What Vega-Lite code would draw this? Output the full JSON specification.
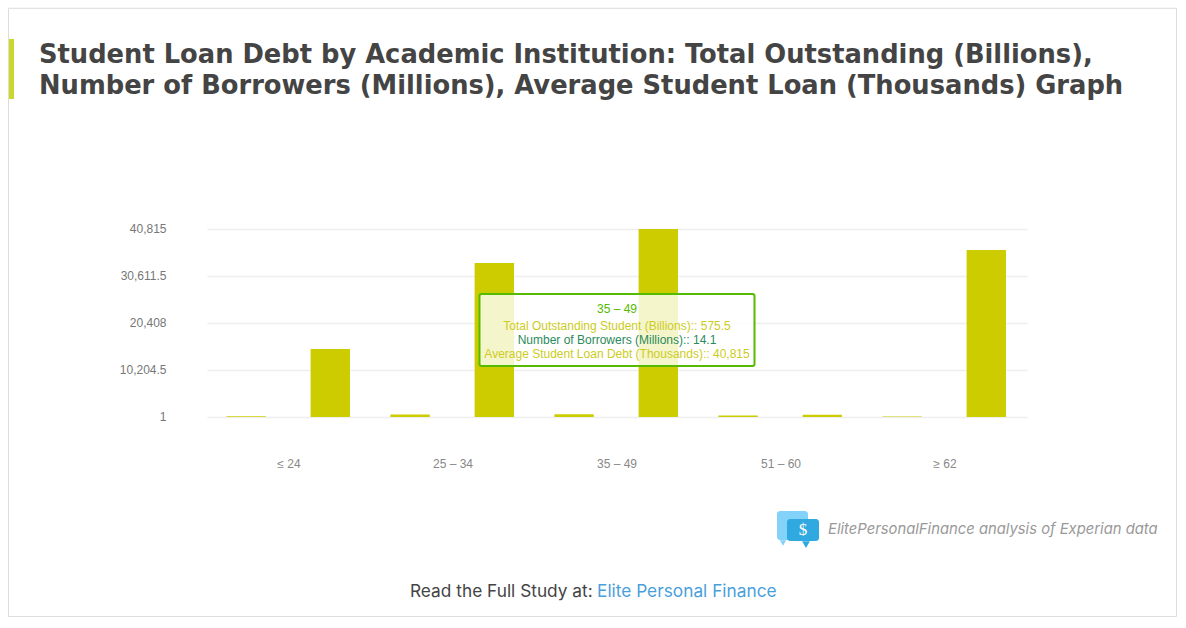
{
"$schema":"https://vega.github.io/schema/vega-lite/v6.json",
"autosize":{"type":"none"},
"padding":{"left":207,"top":229,"right":159,"bottom":211},
"width":820,"height":188,
"background":"#ffffff",
"config":{"view":{"stroke":null}},
"title":{"text":["Student Loan Debt by Academic Institution: Total Outstanding (Billions),","Number of Borrowers (Millions), Average Student Loan (Thousands) Graph"],
"anchor":"start","frame":"group","dx":-168,"offset":-91.5,"font":"DejaVu Sans","fontWeight":700,"fontSize":25.75,"lineHeight":31,"color":"#444444"},
"datasets":{
"one":[{"k":1}],
"bars":[
{"age":"≤ 24","series":"Total Outstanding Student (Billions)","value":150},
{"age":"≤ 24","series":"Number of Borrowers (Millions)","value":7.6},
{"age":"≤ 24","series":"Average Student Loan Debt (Thousands)","value":14763},
{"age":"25 – 34","series":"Total Outstanding Student (Billions)","value":520},
{"age":"25 – 34","series":"Number of Borrowers (Millions)","value":14.9},
{"age":"25 – 34","series":"Average Student Loan Debt (Thousands)","value":33433},
{"age":"35 – 49","series":"Total Outstanding Student (Billions)","value":575.5},
{"age":"35 – 49","series":"Number of Borrowers (Millions)","value":14.1},
{"age":"35 – 49","series":"Average Student Loan Debt (Thousands)","value":40815},
{"age":"51 – 60","series":"Total Outstanding Student (Billions)","value":330},
{"age":"51 – 60","series":"Number of Borrowers (Millions)","value":9},
{"age":"51 – 60","series":"Average Student Loan Debt (Thousands)","value":500},
{"age":"≥ 62","series":"Total Outstanding Student (Billions)","value":100},
{"age":"≥ 62","series":"Number of Borrowers (Millions)","value":2.4},
{"age":"≥ 62","series":"Average Student Loan Debt (Thousands)","value":36255}
]},
"layer":[
{"data":{"name":"bars"},"mark":{"type":"bar"},
"encoding":{
"x":{"field":"age","type":"nominal","sort":null,"title":null,"scale":{"domain":["≤ 24","25 – 34","35 – 49","51 – 60","≥ 62"],"paddingInner":0,"paddingOuter":0},"axis":{"domain":false,"ticks":false,"labelAngle":0,"labelPadding":41,"labelFont":"Liberation Sans","labelFontSize":12,"labelColor":"#888888","grid":false}},
"xOffset":{"field":"series","type":"nominal","sort":["Total Outstanding Student (Billions)","Number of Borrowers (Millions)","Average Student Loan Debt (Thousands)"],"scale":{"paddingInner":0.065,"paddingOuter":0.48,"align":0.48}},
"y":{"field":"value","type":"quantitative","title":null,"scale":{"domain":[1,40815],"nice":false,"zero":false},"axis":{"values":[1,10204.5,20408,30611.5,40815],"format":",.1~f","domain":false,"ticks":false,"labelPadding":41,"labelFont":"Liberation Sans","labelFontSize":12,"labelColor":"#777777","labelOffset":-0.5,"grid":true,"gridColor":"#eeeeee","gridWidth":1.5}},
"color":{"field":"series","type":"nominal","legend":null,"scale":{"domain":["Total Outstanding Student (Billions)","Number of Borrowers (Millions)","Average Student Loan Debt (Thousands)"],"range":["#cccc00","#2a8a6a","#cccc00"]}}
}},
{"data":{"name":"one"},"mark":{"type":"rect","width":1168,"xOffset":-24.5,"fill":null,"stroke":"#dddddd","strokeWidth":1},
"encoding":{"x":{"datum":"35 – 49","type":"nominal"},"y":{"datum":88727,"type":"quantitative"},"y2":{"datum":-43311}}},
{"data":{"name":"one"},"mark":{"type":"rect","width":5,"xOffset":-277.5,"fill":"#c9d82a"},
"encoding":{"x":{"datum":"≤ 24","type":"nominal"},"y":{"datum":82063,"type":"quantitative"},"y2":{"datum":69037}}},
{"data":{"name":"one"},"mark":{"type":"rect","width":275,"cornerRadius":2,"fill":"#ffffff","fillOpacity":0.8,"stroke":"#55bb00","strokeWidth":2},
"encoding":{"x":{"datum":"35 – 49","type":"nominal"},"y":{"datum":26704,"type":"quantitative"},"y2":{"datum":11073}}},
{"data":{"values":[{"label":"35 – 49"}]},"mark":{"type":"text","font":"Liberation Sans","fontSize":12,"color":"#55bb00"},
"encoding":{"x":{"datum":"35 – 49","type":"nominal"},"y":{"datum":23447,"type":"quantitative"},"text":{"field":"label"}}},
{"data":{"values":[{"label":"Total Outstanding Student (Billions):: 575.5"}]},"mark":{"type":"text","font":"Liberation Sans","fontSize":12,"color":"#cccc22"},
"encoding":{"x":{"datum":"35 – 49","type":"nominal"},"y":{"datum":19757,"type":"quantitative"},"text":{"field":"label"}}},
{"data":{"values":[{"label":"Number of Borrowers (Millions):: 14.1"}]},"mark":{"type":"text","font":"Liberation Sans","fontSize":12,"color":"#2a8a5a"},
"encoding":{"x":{"datum":"35 – 49","type":"nominal"},"y":{"datum":16718,"type":"quantitative"},"text":{"field":"label"}}},
{"data":{"values":[{"label":"Average Student Loan Debt (Thousands):: 40,815"}]},"mark":{"type":"text","font":"Liberation Sans","fontSize":12,"color":"#cccc22"},
"encoding":{"x":{"datum":"35 – 49","type":"nominal"},"y":{"datum":13678,"type":"quantitative"},"text":{"field":"label"}}},
{"data":{"name":"one"},"mark":{"type":"rect","width":31,"xOffset":175.5,"cornerRadius":3,"fill":"#82d2fa"},
"encoding":{"x":{"datum":"35 – 49","type":"nominal"},"y":{"datum":-20406,"type":"quantitative"},"y2":{"datum":-26702}}},
{"data":{"name":"one"},"mark":{"type":"point","shape":"triangle-down","size":40,"filled":true,"opacity":1,"color":"#82d2fa","xOffset":166},
"encoding":{"x":{"datum":"35 – 49","type":"nominal"},"y":{"datum":-27350,"type":"quantitative"}}},
{"data":{"name":"one"},"mark":{"type":"rect","width":32,"xOffset":186,"cornerRadius":3,"fill":"#30a8e0"},
"encoding":{"x":{"datum":"35 – 49","type":"nominal"},"y":{"datum":-22143,"type":"quantitative"},"y2":{"datum":-26919}}},
{"data":{"name":"one"},"mark":{"type":"point","shape":"triangle-down","size":60,"filled":true,"opacity":1,"color":"#30a8e0","xOffset":189},
"encoding":{"x":{"datum":"35 – 49","type":"nominal"},"y":{"datum":-27700,"type":"quantitative"}}},
{"data":{"values":[{"label":"$"}]},"mark":{"type":"text","font":"Liberation Serif","fontSize":17,"color":"#ffffff","dx":186},
"encoding":{"x":{"datum":"35 – 49","type":"nominal"},"y":{"datum":-24500,"type":"quantitative"},"text":{"field":"label"}}},
{"data":{"values":[{"label":"ElitePersonalFinance analysis of Experian data"}]},"mark":{"type":"text","align":"left","font":"Inter","fontStyle":"italic","fontSize":14.8,"color":"#999999","dx":211},
"encoding":{"x":{"datum":"35 – 49","type":"nominal"},"y":{"datum":-24530,"type":"quantitative"},"text":{"field":"label"}}},
{"data":{"values":[{"label":"Read the Full Study at:"}]},"mark":{"type":"text","align":"left","font":"Inter","fontSize":17.3,"color":"#444444","dx":-207},
"encoding":{"x":{"datum":"35 – 49","type":"nominal"},"y":{"datum":-37990,"type":"quantitative"},"text":{"field":"label"}}},
{"data":{"values":[{"label":"Elite Personal Finance"}]},"mark":{"type":"text","align":"left","font":"Inter","fontSize":17.3,"color":"#4a9fdb","dx":-20},
"encoding":{"x":{"datum":"35 – 49","type":"nominal"},"y":{"datum":-37990,"type":"quantitative"},"text":{"field":"label"}}}
]
}
